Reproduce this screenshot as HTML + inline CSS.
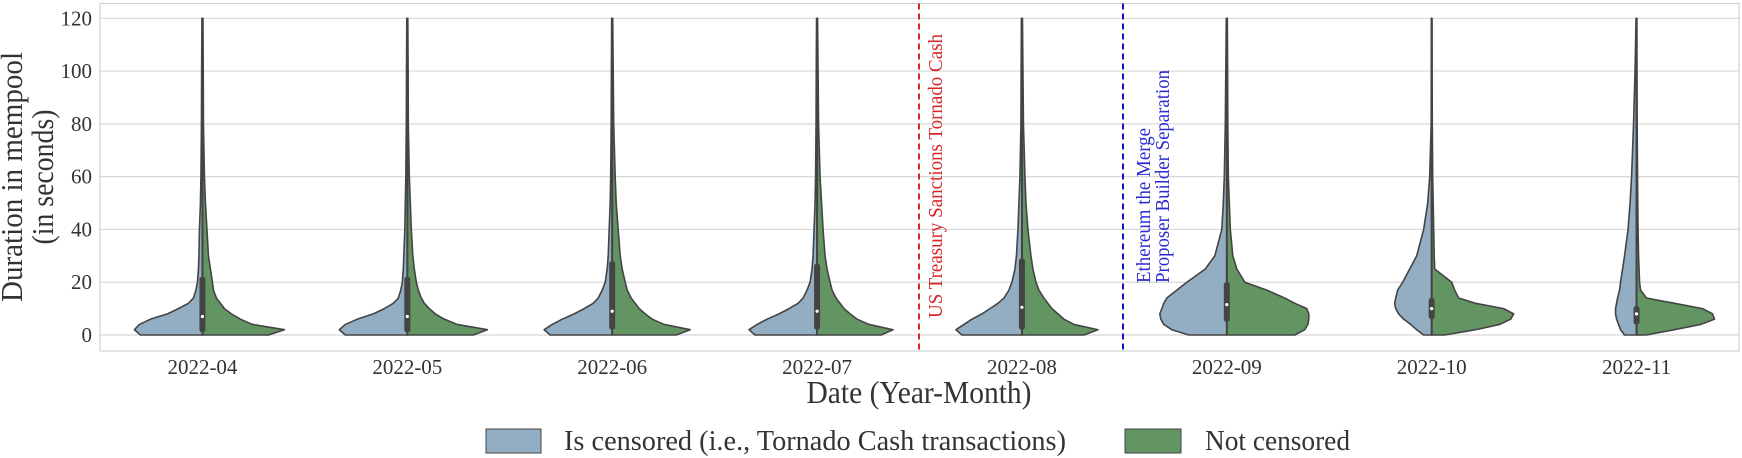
<!DOCTYPE html>
<html><head><meta charset="utf-8"><style>
html,body{margin:0;padding:0;background:#fff}
svg{display:block;font-family:"Liberation Serif",serif}
</style></head><body>
<svg id="chart" width="1742" height="458" viewBox="0 0 1742 458">
<g id="grid"></g>
<rect x="100" y="3.5" width="1639" height="347.5" fill="none" stroke="#d0d0d0" stroke-width="1.2"/>
<g id="yticks"></g>
<g id="xticks"></g>
<g id="violins"></g>
<line x1="919" y1="3.5" x2="919" y2="351" stroke="#d62728" stroke-width="2" stroke-dasharray="6,4"/>
<line x1="1123" y1="3.5" x2="1123" y2="351" stroke="#1515c8" stroke-width="2" stroke-dasharray="6,4"/>
<text transform="translate(942,318) rotate(-90)" font-size="20" fill="#d62728" textLength="284" lengthAdjust="spacingAndGlyphs">US Treasury Sanctions Tornado Cash</text>
<text transform="translate(1150,283) rotate(-90)" font-size="20" fill="#2a2ad0" textLength="155" lengthAdjust="spacingAndGlyphs">Ethereum the Merge</text>
<text transform="translate(1169,283) rotate(-90)" font-size="20" fill="#2a2ad0" textLength="213" lengthAdjust="spacingAndGlyphs">Proposer Builder Separation</text>
<text transform="translate(22,177) rotate(-90)" font-size="31" fill="#333" text-anchor="middle" textLength="250" lengthAdjust="spacingAndGlyphs">Duration in mempool</text>
<text transform="translate(53,177) rotate(-90)" font-size="31" fill="#333" text-anchor="middle" textLength="135" lengthAdjust="spacingAndGlyphs">(in seconds)</text>
<text x="919" y="403" font-size="32" fill="#333" text-anchor="middle" textLength="225" lengthAdjust="spacingAndGlyphs">Date (Year-Month)</text>
<g>
<rect x="486" y="429" width="55" height="24" fill="#93aec2" stroke="#444" stroke-width="1"/>
<text x="564" y="450" font-size="28" fill="#333" textLength="502" lengthAdjust="spacingAndGlyphs">Is censored (i.e., Tornado Cash transactions)</text>
<rect x="1125" y="429" width="56" height="24" fill="#629562" stroke="#444" stroke-width="1"/>
<text x="1205" y="450" font-size="28" fill="#333" textLength="145" lengthAdjust="spacingAndGlyphs">Not censored</text>
</g>
</svg>
<script>
const categories = ["2022-04","2022-05","2022-06","2022-07","2022-08","2022-09","2022-10","2022-11"];
const yTicks = [0,20,40,60,80,100,120];
const grid = [0,2,4,6,8,10,12,14,17,20,25,30,40,50,60,80,100,120];
const censoredDensity = [
 [62,68,63,52,35,24,14,9,6.5,5,4,3.5,3,2,1.5,1,0.8,0.5],
 [62,68,62,50,34,23,14,9,6.5,5,4,3.5,2.5,2,1.5,1,0.8,0.5],
 [62,68,60,50,38,28,19,14,10,7,5,4,3,2,1.5,1,0.8,0.5],
 [62,68,60,50,38,28,19,14,10,7,5,4,3,2,1.5,1,0.8,0.5],
 [60,66,58,50,40,32,24,18,13,10,7,5.5,4,3,2,1,0.8,0.5],
 [38,55,63,66,67,65,63,60,50,40,21.5,12,5,3.5,2.5,1.5,1,0.5],
 [8,15,21,28,33,36,37,36,34,29,22,15,8,4,2,0.5,0.4,0.3],
 [12,16,18,20,21,21,20,19,17,16,14,12,8.5,6.5,5,3,1.5,0.5]
];
const notCensoredDensity = [
 [66,82,50,38,29,22,18,14,11,10,8,6,4.5,3,2,1,0.8,0.5],
 [66,80,50,37,28,22,17,14,11,9,7,5.5,4,3,2,1,0.8,0.5],
 [64,78,52,40,33,27,23,19,15,13,10,8,6,4,3,1.5,1,0.5],
 [64,76,52,40,33,27,23,19,15,13,10,8,6,4.5,3,1.5,1,0.5],
 [62,76,52,42,36,30,26,22,17,14,11,9,6,4,3,1.5,1,0.5],
 [68,78,81,82,82,80,68,58,40,18,10,6,3.5,2.5,1.5,1,0.8,0.5],
 [13,44,68,79,82,72,44,27,23,20,3,2.5,2,1.5,1,0.6,0.4,0.3],
 [9.5,38,64,78,76,66,38,10,4,3,2.5,2,1.5,1.2,1,0.6,0.4,0.3]
];
const q1 = [1,1,2,2,2,5,6,4];
const q3 = [22,22,28,27,29,20,14,11];
const medians = [7,7,9,9,10.5,11.5,10,8];

const NS="http://www.w3.org/2000/svg";
const X0=100, X1=1739, Y0v=335, Y120=18.3;
const band=(X1-X0)/categories.length;
const xc=i=>X0+band*(i+0.5);
const y=v=>Y0v-(v/120)*(Y0v-Y120);
const wScale=1.0;
function mk(tag,attrs,parent){const e=document.createElementNS(NS,tag);for(const k in attrs)e.setAttribute(k,attrs[k]);parent.appendChild(e);return e;}
const gGrid=document.getElementById('grid'),gY=document.getElementById('yticks'),gX=document.getElementById('xticks'),gV=document.getElementById('violins');
yTicks.forEach(t=>{
  const l=mk('line',{x1:X0,x2:X1,y1:y(t),y2:y(t),stroke:'#d8d8d8','stroke-width':1.2},gGrid);
  
  
  const tx=mk('text',{x:92,y:y(t)+7,'font-size':21,'text-anchor':'end',fill:'#333'},gY);
  tx.textContent=t;
  
  
});
categories.forEach((c,i)=>{
  const tx=mk('text',{x:xc(i),y:374,'font-size':21,'text-anchor':'middle',fill:'#333'},gX);
  tx.textContent=c;
  
  
});
function halfPath(i,dens,sign){
  const cx=xc(i);
  let d='M'+cx+','+y(0);
  grid.forEach((v,k)=>{d+=' L'+(cx+sign*dens[k]*wScale).toFixed(2)+','+y(v).toFixed(2);});
  d+=' L'+cx+','+y(grid[grid.length-1])+' Z';
  return d;
}
categories.forEach((c,i)=>{
  const g=mk('g',{},gV);
  
  
  const a=mk('path',{d:halfPath(i,censoredDensity[i],-1),fill:'#93aec2',stroke:'#444','stroke-width':1.6,'stroke-linejoin':'round'},g);
  
  
  const b=mk('path',{d:halfPath(i,notCensoredDensity[i],1),fill:'#629562',stroke:'#444','stroke-width':1.6,'stroke-linejoin':'round'},g);
  
  
  const w=mk('line',{x1:xc(i),x2:xc(i),y1:y(0),y2:y(120),stroke:'#444','stroke-width':2},g);
  
  
  const bx=mk('rect',{x:xc(i)-3,y:y(q3[i]),width:6,height:y(q1[i])-y(q3[i]),rx:2.5,fill:'#444'},g);
  
  
  const m=mk('circle',{cx:xc(i),cy:y(medians[i]),r:1.6,fill:'#fff'},g);
  
  
});
</script>
</body></html>
